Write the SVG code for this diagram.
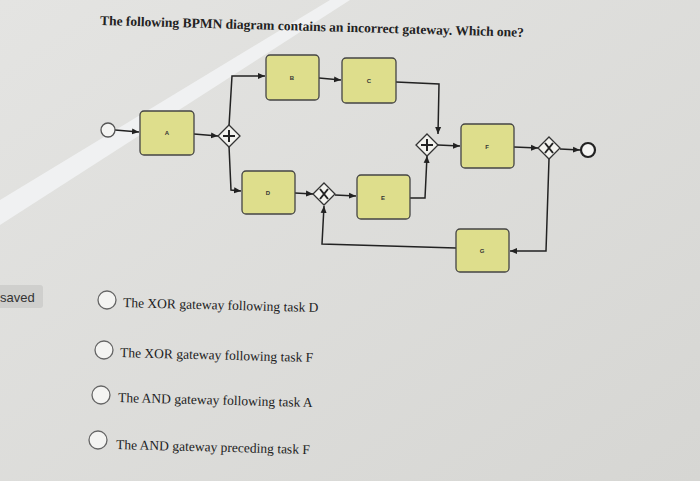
<svg xmlns="http://www.w3.org/2000/svg" width="700" height="481" viewBox="0 0 700 481">
<defs>
<marker id="ah" markerWidth="8" markerHeight="8" refX="7" refY="4" orient="auto" markerUnits="userSpaceOnUse"><path d="M0,1 L7,4 L0,7 z" fill="#222"/></marker>
<linearGradient id="bg" x1="0" y1="0" x2="1" y2="1"><stop offset="0" stop-color="#e4e4e2"/><stop offset="1" stop-color="#d6d6d3"/></linearGradient>
</defs>
<style>
.task{fill:#dede8c;stroke:#444;stroke-width:1.3}
.tl{font-family:"Liberation Sans",Arial,sans-serif;font-size:6px;font-weight:bold;fill:#333;text-anchor:middle}
.gw{fill:#f2f2ee;stroke:#333;stroke-width:1.3}
.sym{stroke:#222;stroke-width:2;fill:none}
.c{fill:none;stroke:#222;stroke-width:1.5;marker-end:url(#ah)}
.q{font-family:"Liberation Serif","Times New Roman",serif;font-size:13.5px;fill:#222}
.r{fill:#f4f4f2;stroke:#666;stroke-width:1.3}
</style>
<rect width="700" height="481" fill="url(#bg)"/>
<path d="M0,200 L330,0 L350,0 L0,225 z" fill="#f4f5f6" opacity="0.8"/>
<text x="100" y="25" class="q" font-weight="bold" font-size="14" transform="rotate(1.6 100 25)">The following BPMN diagram contains an incorrect gateway. Which one?</text>
<g id="connectors">
<line x1="115" y1="130" x2="139" y2="132" class="c"/>
<line x1="194" y1="134" x2="218" y2="136" class="c"/>
<polyline points="229,126 232,76 265,76" class="c"/>
<polyline points="229,146 231,190 241,191" class="c"/>
<line x1="319" y1="78" x2="341" y2="80" class="c"/>
<polyline points="396,82 439,84 438,134" class="c"/>
<line x1="295" y1="193" x2="313" y2="194" class="c"/>
<line x1="335" y1="195" x2="356" y2="196" class="c"/>
<polyline points="410,198 425,198 427,156" class="c"/>
<line x1="438" y1="145" x2="460" y2="146" class="c"/>
<line x1="514" y1="147" x2="538" y2="148" class="c"/>
<line x1="560" y1="149" x2="580" y2="150" class="c"/>
<polyline points="549,159 546,251 510,251" class="c"/>
<polyline points="456,248 322,244 324,206" class="c"/>
</g>
<g id="start"><circle cx="108" cy="130" r="7" fill="#f4f4f2" stroke="#555" stroke-width="1.3"/></g>
<g id="A"><rect x="140" y="111" width="54" height="44" rx="4" class="task"/><text x="167" y="135" class="tl">A</text></g>
<g id="and1"><path d="M229,125 L240,136 L229,147 L218,136 z" class="gw"/><path d="M229,130 V142 M223,136 H235" class="sym"/></g>
<g id="B"><rect x="266" y="55" width="53" height="45" rx="4" class="task"/><text x="292" y="80" class="tl">B</text></g>
<g id="C"><rect x="342" y="58" width="54" height="45" rx="4" class="task"/><text x="369" y="83" class="tl">C</text></g>
<g id="D"><rect x="242" y="171" width="53" height="43" rx="4" class="task"/><text x="268" y="195" class="tl">D</text></g>
<g id="xor1"><path d="M324,183 L335,194 L324,205 L313,194 z" class="gw"/><path d="M320,189 L328,199 M328,189 L320,199" class="sym"/></g>
<g id="E"><rect x="357" y="175" width="53" height="44" rx="4" class="task"/><text x="383" y="200" class="tl">E</text></g>
<g id="and2"><path d="M427,134 L438,145 L427,156 L416,145 z" class="gw"/><path d="M427,139 V151 M421,145 H433" class="sym"/></g>
<g id="F"><rect x="461" y="124" width="53" height="44" rx="4" class="task"/><text x="487" y="149" class="tl">F</text></g>
<g id="xor2"><path d="M549,137 L560,148 L549,159 L538,148 z" class="gw"/><path d="M545,143 L553,153 M553,143 L545,153" class="sym"/></g>
<g id="end"><circle cx="588" cy="150" r="7" fill="#f4f4f2" stroke="#222" stroke-width="2.2"/></g>
<g id="G"><rect x="456" y="229" width="53" height="43" rx="4" class="task"/><text x="482" y="253" class="tl">G</text></g>
<rect x="-5" y="285" width="48" height="23" rx="3" fill="#cfcfcd"/>
<text x="0" y="302" font-family="'Liberation Sans',Arial,sans-serif" font-size="13" fill="#333">saved</text>
<g id="options">
<circle cx="107" cy="300" r="9" class="r"/><text x="123" y="307" class="q" transform="rotate(1.5 123 307)">The XOR gateway following task D</text>
<circle cx="104" cy="350" r="9" class="r"/><text x="120" y="357" class="q" transform="rotate(1.5 120 357)">The XOR gateway following task F</text>
<circle cx="101" cy="395" r="9" class="r"/><text x="118" y="402" class="q" transform="rotate(1.5 118 402)">The AND gateway following task A</text>
<circle cx="98" cy="440" r="9" class="r"/><text x="116" y="449" class="q" transform="rotate(1.5 116 449)">The AND gateway preceding task F</text>
</g>
</svg>
